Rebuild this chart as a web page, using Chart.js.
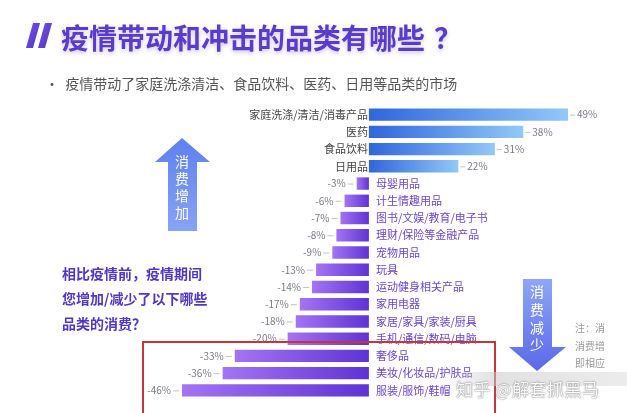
<!DOCTYPE html>
<html>
<head>
<meta charset="utf-8">
<script src="https://cdn.jsdelivr.net/npm/chart.js@4"></script>
<style>
  body { margin: 0; background: #fff; font-family: "Noto Sans CJK SC", "Noto Sans", sans-serif; }
  #wrap { position: relative; width: 627px; height: 413px; overflow: hidden; }
  #chart { position: absolute; left: 0; top: 0; }
  .txt { position: absolute; white-space: nowrap; }
  #title { left: 61px; top: 17px; font-size: 28px; font-weight: 700; color: #5a3ccb;
           text-shadow: 0 2px 4px rgba(120, 90, 220, 0.35); }
  #title .q { margin-left: 9px; }
  #sub { left: 45px; top: 73px; font-size: 14px; color: #555; }
  #ask { left: 62px; top: 261px; font-size: 14px; font-weight: 700; color: #5236c4; line-height: 25px; }
  #note { left: 575px; top: 319px; font-size: 10px; color: #999; line-height: 17.5px; }
  #band { left: 440px; top: 372px; width: 187px; height: 14px;
          background: linear-gradient(to right, rgba(200,200,200,0), rgba(200,200,200,0.55) 30%, rgba(200,200,200,0.35)); }
  #mark { left: 456px; top: 376px; font-size: 17px; color: #fafafa; letter-spacing: 0.5px;
          text-shadow: 0 0 2px #888, 0 0 1px #777; }
  svg { position: absolute; left: 0; top: 0; pointer-events: none; }
</style>
</head>
<body>
<div id="wrap">
  <canvas id="chart" width="627" height="413"></canvas>
  <svg width="627" height="413">
    <defs>
      <linearGradient id="upG" x1="0" y1="0" x2="0" y2="1">
        <stop offset="0" stop-color="#5f80ef"/>
        <stop offset="1" stop-color="#86a4f4"/>
      </linearGradient>
      <linearGradient id="dnG" x1="0" y1="0" x2="0" y2="1">
        <stop offset="0" stop-color="#8fa6f6"/>
        <stop offset="1" stop-color="#5b68ea"/>
      </linearGradient>
      <linearGradient id="slG" x1="0" y1="0" x2="1" y2="1">
        <stop offset="0" stop-color="#7a4fe6"/>
        <stop offset="1" stop-color="#4b36c4"/>
      </linearGradient>
    </defs>
    <polygon points="33,23 40,23 33,48 26,48" fill="url(#slG)"/>
    <polygon points="45,23 52,23 45,48 38,48" fill="url(#slG)"/>
    <polygon points="182,138 210,162 197,162 197,231 168,231 168,162 155,162" fill="url(#upG)"/>
    <g fill="#fff" font-size="14" text-anchor="middle" font-family="Noto Sans CJK SC">
      <text x="182" y="167">消</text>
      <text x="182" y="184">费</text>
      <text x="182" y="201">增</text>
      <text x="182" y="218">加</text>
    </g>
    <polygon points="523,279 552,279 552,347 566,347 537,371 509,347 523,347" fill="url(#dnG)"/>
    <g fill="#fff" font-size="14" text-anchor="middle" font-family="Noto Sans CJK SC">
      <text x="537" y="297">消</text>
      <text x="537" y="315">费</text>
      <text x="537" y="333">减</text>
      <text x="537" y="350">少</text>
    </g>
    <polyline points="143,420 143,342 495,342 495,420" fill="none" stroke="#c8343a" stroke-width="2"/>
  </svg>
  <div class="txt" id="title">疫情带动和冲击的品类有哪些<span class="q">？</span></div>
  <div class="txt" id="sub">•&nbsp;&nbsp;疫情带动了家庭洗涤清洁、食品饮料、医药、日用等品类的市场</div>
  <div class="txt" id="ask">相比疫情前，疫情期间<br>您增加/减少了以下哪些<br>品类的消费？</div>
  <div class="txt" id="note">注：消<br>消费增<br>即相应</div>
  <div class="txt" id="band"></div>
  <div class="txt" id="mark">知乎 @解套抓黑马</div>
</div>
<script>
const categories = [
  "家庭洗涤/清洁/消毒产品", "医药", "食品饮料", "日用品",
  "母婴用品", "计生情趣用品", "图书/文娱/教育/电子书", "理财/保险等金融产品",
  "宠物用品", "玩具", "运动健身相关产品", "家用电器",
  "家居/家具/家装/厨具", "手机/通信/数码/电脑", "奢侈品", "美妆/化妆品/护肤品", "服装/服饰/鞋帽"
];
const changePct = [49, 38, 31, 22, -3, -6, -7, -8, -9, -13, -14, -17, -18, -20, -33, -36, -46];
const axisMin = -46;
const axisMax = 49;

const fontCJK = '"Noto Sans CJK SC", "Noto Sans", sans-serif';

function barFill(context) {
  const chart = context.chart;
  const x = chart.scales.x;
  if (!chart.chartArea || !x) return context.raw >= 0 ? "#5b8fe8" : "#7c4fe4";
  const v = context.raw;
  const p0 = x.getPixelForValue(0);
  const p1 = x.getPixelForValue(v);
  const g = chart.ctx.createLinearGradient(Math.min(p0, p1), 0, Math.max(p0, p1) + 0.01, 0);
  if (v >= 0) {
    g.addColorStop(0, "#2f66dc");
    g.addColorStop(1, "#93c8f7");
  } else {
    g.addColorStop(0, "#a474f3");
    g.addColorStop(1, "#5f33d4");
  }
  return g;
}

const barLabels = {
  id: "barLabels",
  afterDatasetsDraw(chart) {
    const ctx = chart.ctx;
    const meta = chart.getDatasetMeta(0);
    ctx.save();
    ctx.textBaseline = "middle";
    meta.data.forEach((bar, i) => {
      const v = changePct[i];
      const y = bar.y;
      const txt = v + "%";
      ctx.strokeStyle = "#c4c4c4";
      ctx.lineWidth = 1;
      if (v >= 0) {
        ctx.font = "11px " + fontCJK;
        ctx.fillStyle = "#444";
        ctx.textAlign = "right";
        ctx.fillText(categories[i], bar.base - 1, y);
        ctx.beginPath();
        ctx.moveTo(bar.x + 2, y + 0.5);
        ctx.lineTo(bar.x + 7, y + 0.5);
        ctx.stroke();
        ctx.font = "10px " + fontCJK;
        ctx.fillStyle = "#7a7a8a";
        ctx.textAlign = "left";
        ctx.fillText(txt, bar.x + 9, y);
      } else {
        ctx.font = "11px " + fontCJK;
        ctx.fillStyle = "#6a45cc";
        ctx.textAlign = "left";
        ctx.fillText(categories[i], bar.base + 7, y);
        ctx.beginPath();
        ctx.moveTo(bar.x - 3, y + 0.5);
        ctx.lineTo(bar.x - 9, y + 0.5);
        ctx.stroke();
        ctx.font = "10px " + fontCJK;
        ctx.fillStyle = "#7a7a8a";
        ctx.textAlign = "right";
        ctx.fillText(txt, bar.x - 11, y);
      }
    });
    ctx.restore();
  }
};

new Chart(document.getElementById("chart"), {
  type: "bar",
  data: {
    labels: categories,
    datasets: [
      {
        data: changePct,
        backgroundColor: barFill,
        borderWidth: 0,
        categoryPercentage: 1,
        barPercentage: 0.72,
      },
    ],
  },
  options: {
    indexAxis: "y",
    responsive: false,
    animation: false,
    layout: {
      padding: { left: 182, right: 59, top: 106, bottom: 14 },
    },
    scales: {
      x: { display: false, min: axisMin, max: axisMax },
      y: { display: false },
    },
    plugins: {
      legend: { display: false },
      tooltip: { enabled: false },
    },
  },
  plugins: [barLabels],
});
</script>
</body>
</html>
